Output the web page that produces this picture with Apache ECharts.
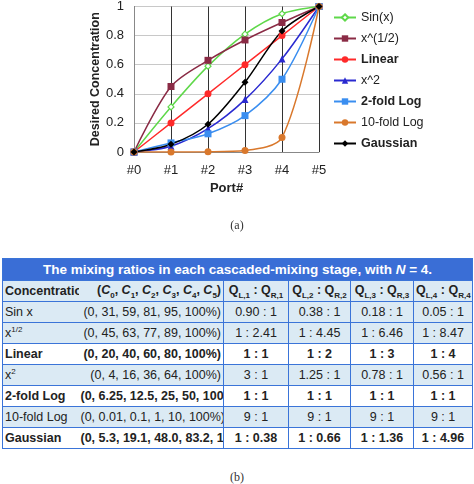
<!DOCTYPE html>
<html><head><meta charset="utf-8">
<script src="https://cdn.jsdelivr.net/npm/echarts@6/dist/echarts.min.js"></script>
<style>
body{margin:0;background:#fff;font-family:"Liberation Sans",Arial,sans-serif;}
#chart{position:absolute;left:0;top:0;width:474px;height:235px;}
.cap{position:absolute;width:474px;text-align:center;font-family:"Liberation Serif",serif;font-size:12px;color:#333;}
table{position:absolute;left:2px;top:258px;width:470px;table-layout:fixed;border-collapse:collapse;
  font-family:"Liberation Sans Narrow","Arial Narrow","Liberation Sans",sans-serif;font-size:12.5px;color:#222;}
td{border:1.5px solid #3a74d8;height:20px;padding:0 2px;text-align:center;white-space:nowrap;overflow:hidden;}
td.n{text-align:left;border-right:none;}
td.v{text-align:right;border-left:none;}
tr.t td{background:#3a6ed6;color:#fff;font-weight:bold;font-size:13.5px;height:21px;}
tr.l td{background:#dbeaf4;}
tr.b td{font-weight:bold;background:#fff;}
sub{font-size:8px;}
sup{font-size:8px;}
</style></head>
<body>
<div id="chart"></div>
<div class="cap" style="top:218px">(a)</div>
<table id="tbl">
<colgroup><col style="width:76px"><col style="width:145px"><col style="width:65px"><col style="width:62px"><col style="width:63px"><col style="width:59px"></colgroup>
</table>
<div class="cap" style="top:470px">(b)</div>
<script>
const ports = ['#0', '#1', '#2', '#3', '#4', '#5'];
const names = ['Sin(x)', 'x^(1/2)', 'Linear', 'x^2', '2-fold Log', '10-fold Log', 'Gaussian'];
const sinx = [0, 0.31, 0.59, 0.81, 0.95, 1];
const sqrtx = [0, 0.45, 0.63, 0.77, 0.89, 1];
const linear = [0, 0.2, 0.4, 0.6, 0.8, 1];
const sq = [0, 0.04, 0.16, 0.36, 0.64, 1];
const log2 = [0, 0.0625, 0.125, 0.25, 0.5, 1];
const log10 = [0, 0.0001, 0.001, 0.01, 0.1, 1];
const gauss = [0, 0.053, 0.191, 0.48, 0.832, 1];
const values = [sinx, sqrtx, linear, sq, log2, log10, gauss];
const colors = ['#5fd84a', '#8a2b45', '#ff2a2a', '#2a2ad0', '#3a8ef0', '#d9782c', '#000'];
const symbols = ['diamond', 'rect', 'circle', 'triangle', 'rect', 'circle', 'diamond'];
const bold = ['Linear', '2-fold Log', 'Gaussian'];

const rowNames = ['Sin x', 'x<sup>1/2</sup>', 'Linear', 'x<sup>2</sup>', '2-fold Log', '10-fold Log', 'Gaussian'];
const rowConc = ['(0, 31, 59, 81, 95, 100%)', '(0, 45, 63, 77, 89, 100%)', '(0, 20, 40, 60, 80, 100%)',
  '(0, 4, 16, 36, 64, 100%)', '(0, 6.25, 12.5, 25, 50, 100%)', '(0, 0.01, 0.1, 1, 10, 100%)',
  '(0, 5.3, 19.1, 48.0, 83.2, 100%)'];
const ratios = [
  ['0.90 : 1', '0.38 : 1', '0.18 : 1', '0.05 : 1'],
  ['1 : 2.41', '1 : 4.45', '1 : 6.46', '1 : 8.47'],
  ['1 : 1', '1 : 2', '1 : 3', '1 : 4'],
  ['3 : 1', '1.25 : 1', '0.78 : 1', '0.56 : 1'],
  ['1 : 1', '1 : 1', '1 : 1', '1 : 1'],
  ['9 : 1', '9 : 1', '9 : 1', '9 : 1'],
  ['1 : 0.38', '1 : 0.66', '1 : 1.36', '1 : 4.96']
];
const rowStyle = ['l', 'l', 'b', 'l', 'b', 'l', 'b'];

// table
let h = '<tr class="t"><td colspan="6">The mixing ratios in each cascaded-mixing stage, with <i>N</i> = 4.</td></tr>';
h += '<tr class="l"><td class="n" style="font-weight:bold">Concentration</td><td class="v" style="font-weight:bold">(<i>C</i><sub>0</sub>, <i>C</i><sub>1</sub>, <i>C</i><sub>2</sub>, <i>C</i><sub>3</sub>, <i>C</i><sub>4</sub>, <i>C</i><sub>5</sub>)</td>';
for (let k = 1; k <= 4; k++) h += '<td style="font-weight:bold">Q<sub>L,' + k + '</sub> : Q<sub>R,' + k + '</sub></td>';
h += '</tr>';
rowNames.forEach((n, i) => {
  h += '<tr class="' + rowStyle[i] + '"><td class="n">' + n + '</td><td class="v">' + rowConc[i] + '</td>';
  ratios[i].forEach(r => h += '<td>' + r + '</td>');
  h += '</tr>';
});
document.getElementById('tbl').insertAdjacentHTML('beforeend', h);

// chart
const chart = echarts.init(document.getElementById('chart'));
chart.setOption({
  animation: false,
  grid: {left: 134, right: 155, top: 6, bottom: 83},
  xAxis: {
    type: 'value', min: 0, max: 5, interval: 1,
    name: 'Port#', nameLocation: 'middle', nameGap: 30,
    nameTextStyle: {fontWeight: 'bold', fontSize: 13, color: '#222'},
    axisLine: {lineStyle: {color: '#888'}}, axisTick: {show: false},
    axisLabel: {formatter: v => ports[v], color: '#222', fontSize: 13, margin: 12},
    splitLine: {lineStyle: {color: '#333', width: 1}}
  },
  yAxis: {
    type: 'value', min: 0, max: 1, interval: 0.2,
    name: 'Desired Concentration', nameLocation: 'middle', nameGap: 32,
    nameTextStyle: {fontWeight: 'bold', fontSize: 12.5, color: '#222'},
    axisLine: {show: true, lineStyle: {color: '#888'}}, axisTick: {show: false},
    axisLabel: {color: '#222', fontSize: 13, margin: 10, formatter: v => String(+v.toFixed(1))},
    splitLine: {lineStyle: {color: '#c8c8c8'}}
  },
  legend: {
    orient: 'vertical', left: 328, top: 6, itemGap: 8, itemWidth: 22, itemHeight: 8,
    data: names,
    formatter: n => bold.includes(n) ? '{b|' + n + '}' : n,
    textStyle: {fontSize: 12.5, color: '#222', rich: {b: {fontWeight: 'bold', fontSize: 12.5}}}
  },
  series: names.map((n, i) => ({
    name: n, type: 'line', smooth: 0.3,
    data: values[i].map((v, j) => [j, v]),
    symbol: symbols[i], symbolSize: i === 0 ? 6 : 7,
    itemStyle: {color: i === 0 ? '#fff' : colors[i], borderColor: colors[i], borderWidth: i === 0 ? 1.2 : 0},
    lineStyle: {color: colors[i], width: 1.5}
  }))
});
</script>
</body></html>
